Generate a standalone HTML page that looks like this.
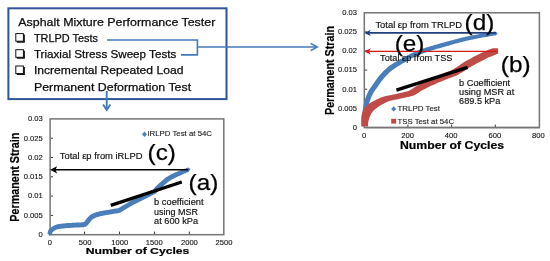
<!DOCTYPE html>
<html><head><meta charset="utf-8">
<style>
html,body{margin:0;padding:0;background:#fff;}
body{width:550px;height:261px;overflow:hidden;}
svg{display:block;}
text{font-family:"Liberation Sans",sans-serif;fill:#111;}
.cal{font-size:11.6px;fill:#000;stroke:#000;stroke-width:0.25px;}
.tk{font-size:7.6px;fill:#1a1a1a;stroke:#1a1a1a;stroke-width:0.12px;}
.lb{font-size:8.2px;fill:#111;stroke:#111;stroke-width:0.15px;}
.ttl{font-size:11.6px;font-weight:bold;fill:#000;stroke:#000;stroke-width:0.2px;}
.big{font-size:22.6px;fill:#000;stroke:#000;stroke-width:0.25px;}
</style></head><body>
<svg width="550" height="261" viewBox="0 0 550 261">
<rect width="550" height="261" fill="#fff"/>

<!-- top-left box -->
<rect x="8.4" y="8.3" width="218.1" height="90.8" fill="#fff" stroke="#2f5597" stroke-width="2"/>
<g class="cal">
<text x="18.3" y="25.5" textLength="197" lengthAdjust="spacingAndGlyphs">Asphalt Mixture Performance Tester</text>
<text x="33.9" y="42" textLength="64" lengthAdjust="spacingAndGlyphs">TRLPD Tests</text>
<text x="33.9" y="58.1" textLength="142.4" lengthAdjust="spacingAndGlyphs">Triaxial Stress Sweep Tests</text>
<text x="33.9" y="74.4" textLength="149.5" lengthAdjust="spacingAndGlyphs">Incremental Repeated Load</text>
<text x="33.9" y="90.6" textLength="157.2" lengthAdjust="spacingAndGlyphs">Permanent Deformation Test</text>
</g>
<!-- checkboxes -->
<g fill="#fff" stroke="#111" stroke-width="1">
<rect x="15.8" y="33.6" width="7.6" height="7.6"/><path d="M24.1 34.6V41.9H16.8" fill="none" stroke-width="1.5"/>
<rect x="15.8" y="49.7" width="7.6" height="7.6"/><path d="M24.1 50.7V58H16.8" fill="none" stroke-width="1.6"/>
<rect x="15.8" y="66" width="7.6" height="7.6"/><path d="M24.1 67V74.3H16.8" fill="none" stroke-width="1.6"/>
</g>
<!-- connectors -->
<g fill="none" stroke="#4379bd" stroke-width="1.6">
<path d="M107 40H197.4V54.9H181"/>
<path d="M197.4 47H316.6"/>
<path d="M310.6 43.4L317.2 47L310.6 50.6"/>
<path d="M106.7 91V109.6" stroke-width="1.9"/>
<path d="M103.1 104.4L106.7 110L110.3 104.4" stroke-width="1.9"/>
</g>

<!-- RIGHT CHART -->
<g id="rc">
<rect x="364.3" y="12.8" width="175.1" height="114.8" fill="#fff" stroke="#757575" stroke-width="1.5"/>
<g stroke="#3a3a3a" stroke-width="1">
<path d="M365 31.9h2.2M365 51h2.2M365 70.1h2.2M365 89.2h2.2M365 108.3h2.2"/>
<path d="M407.9 127v-2.4M451.6 127v-2.4M495.3 127v-2.4"/>
</g>
<g class="tk" text-anchor="end">
<text x="357" y="14.9">0.03</text><text x="357" y="34.1">0.025</text><text x="357" y="53.2">0.02</text>
<text x="357" y="72.4">0.015</text><text x="357" y="91.6">0.01</text><text x="357" y="110.7">0.005</text><text x="357" y="129.9">0</text>
</g>
<g class="tk" text-anchor="middle">
<text x="364.2" y="138.1">0</text><text x="407.6" y="138.1">200</text><text x="451.2" y="138.1">400</text><text x="494.8" y="138.1">600</text><text x="538.4" y="138.1">800</text>
</g>
<text class="ttl" text-anchor="middle" x="452" y="148.8" textLength="104" lengthAdjust="spacingAndGlyphs" style="font-size:10.2px">Number of Cycles</text>
<text class="ttl" text-anchor="middle" transform="translate(333.9 70.5) rotate(-90)" textLength="89.1" lengthAdjust="spacingAndGlyphs" style="font-size:12.7px">Permanent Strain</text>

<!-- TRLPD curve -->
<path d="M361.9 123.9L361.9 123.5L361.9 122.9L362.0 122.2L362.0 121.4L362.0 120.6L362.1 119.7L362.1 118.8L362.2 117.8L362.2 116.9L362.3 115.8L362.4 114.7L362.5 113.5L362.6 112.4L362.7 111.3L362.8 110.2L362.9 109.2L363.0 108.3L363.2 107.4L363.3 106.6L363.5 105.8L363.6 105.1L363.8 104.3L363.9 103.6L364.1 102.9L364.3 102.2L364.4 101.5L364.6 100.8L364.8 100.0L365.0 99.3L365.2 98.6L365.5 97.8L365.8 97.1L366.1 96.3L366.4 95.4L366.8 94.6L367.2 93.7L367.6 92.8L368.0 91.9L368.5 91.1L368.9 90.2L369.5 89.3L370.0 88.5L370.6 87.7L371.1 86.9L371.7 86.2L372.2 85.4L372.7 84.7L373.3 84.0L373.8 83.3L374.3 82.5L374.8 81.8L375.3 81.0L375.8 80.2L376.4 79.4L376.9 78.7L377.5 77.9L378.1 77.1L378.7 76.4L379.3 75.6L379.9 74.9L380.6 74.2L381.2 73.4L381.9 72.7L382.6 72.0L383.3 71.2L384.0 70.5L384.8 69.8L385.6 69.1L386.4 68.4L387.2 67.6L388.0 66.9L388.9 66.3L389.8 65.6L390.8 64.9L391.7 64.3L392.7 63.7L393.7 63.1L394.6 62.6L395.5 62.0L396.4 61.5L397.2 61.0L398.1 60.5L398.9 60.0L399.7 59.6L400.4 59.1L401.3 58.7L402.1 58.2L403.0 57.7L404.0 57.2L404.9 56.7L406.0 56.1L407.0 55.5L408.1 55.0L409.2 54.4L410.3 53.8L411.5 53.3L412.7 52.8L414.0 52.2L415.2 51.7L416.5 51.1L417.9 50.6L419.2 50.1L420.5 49.6L421.8 49.1L423.1 48.6L424.4 48.2L425.7 47.8L427.0 47.3L428.3 46.9L429.6 46.5L431.0 46.1L432.4 45.7L433.8 45.3L435.3 44.8L436.9 44.4L438.4 44.0L440.0 43.5L441.5 43.1L443.0 42.7L444.4 42.3L445.8 42.0L447.0 41.6L448.3 41.2L449.5 40.9L450.7 40.6L451.9 40.2L453.2 39.9L454.5 39.6L455.8 39.2L457.1 38.9L458.4 38.5L459.7 38.2L461.1 37.8L462.5 37.5L464.0 37.1L465.5 36.8L467.2 36.4L468.8 36.1L470.6 35.7L472.3 35.4L474.1 35.0L476.0 34.7L477.8 34.4L479.6 34.0L481.6 33.7L483.8 33.4L486.0 33.0L488.3 32.7L490.4 32.3L492.3 32.0L493.9 31.8L495.1 31.6L495.7 35.4L494.5 35.6L492.9 35.8L491.0 36.1L488.9 36.5L486.7 36.9L484.4 37.2L482.3 37.6L480.4 38.0L478.5 38.3L476.7 38.7L474.9 39.0L473.1 39.4L471.4 39.7L469.7 40.1L468.0 40.5L466.5 40.8L464.9 41.2L463.5 41.5L462.1 41.9L460.8 42.2L459.5 42.6L458.2 42.9L456.9 43.3L455.5 43.6L454.3 44.0L453.0 44.3L451.8 44.7L450.6 45.0L449.4 45.4L448.2 45.7L446.9 46.1L445.6 46.5L444.2 46.9L442.7 47.3L441.2 47.7L439.6 48.2L438.1 48.6L436.5 49.0L435.1 49.5L433.6 49.9L432.3 50.3L430.9 50.7L429.6 51.2L428.4 51.6L427.1 52.0L425.9 52.4L424.6 52.8L423.4 53.3L422.1 53.8L420.8 54.3L419.6 54.8L418.3 55.3L417.0 55.9L415.8 56.4L414.6 57.0L413.5 57.5L412.4 58.0L411.3 58.6L410.3 59.1L409.3 59.7L408.2 60.3L407.3 60.8L406.3 61.4L405.4 61.9L404.5 62.4L403.7 62.9L402.9 63.3L402.1 63.8L401.4 64.2L400.6 64.7L399.8 65.2L399.0 65.7L398.1 66.3L397.2 66.8L396.3 67.4L395.4 68.0L394.5 68.6L393.7 69.2L392.9 69.7L392.1 70.3L391.3 71.0L390.6 71.6L389.9 72.2L389.1 72.9L388.4 73.6L387.7 74.3L387.1 75.0L386.4 75.6L385.8 76.3L385.1 77.0L384.5 77.7L383.9 78.3L383.4 79.0L382.8 79.7L382.2 80.4L381.7 81.1L381.2 81.8L380.6 82.5L380.1 83.2L379.6 84.0L379.1 84.7L378.6 85.5L378.1 86.2L377.5 87.0L377.0 87.8L376.4 88.5L375.9 89.3L375.3 90.0L374.8 90.7L374.3 91.4L373.9 92.1L373.5 92.8L373.1 93.5L372.7 94.3L372.3 95.1L371.9 95.9L371.6 96.6L371.2 97.4L370.9 98.2L370.6 98.9L370.4 99.6L370.1 100.3L369.9 100.9L369.7 101.5L369.5 102.1L369.3 102.8L369.1 103.4L368.9 104.1L368.7 104.8L368.6 105.5L368.4 106.1L368.2 106.8L368.1 107.5L367.9 108.2L367.8 109.0L367.7 109.8L367.5 110.7L367.4 111.8L367.3 112.8L367.2 114.0L367.1 115.1L367.0 116.2L366.9 117.2L366.8 118.2L366.8 119.1L366.7 119.9L366.7 120.8L366.6 121.6L366.6 122.4L366.6 123.1L366.5 123.6L366.5 124.1ZM495.8 31.6L497.7 33.5L495.8 35.4L493.9 33.5Z" fill="#4a7ebb"/>
<!-- TSS curve -->
<path d="M361.2 119.6L361.2 119.4L361.2 119.1L361.2 118.8L361.2 118.4L361.2 118.0L361.3 117.5L361.3 117.1L361.3 116.6L361.4 116.2L361.5 115.7L361.6 115.2L361.7 114.7L361.8 114.2L362.0 113.7L362.1 113.2L362.3 112.7L362.5 112.1L362.6 111.6L362.8 111.0L363.1 110.5L363.3 109.9L363.6 109.3L363.8 108.8L364.1 108.3L364.5 107.9L364.8 107.4L365.2 107.0L365.6 106.6L365.9 106.2L366.4 105.8L366.8 105.4L367.2 105.0L367.6 104.6L368.1 104.3L368.5 104.0L369.0 103.7L369.5 103.4L370.0 103.1L370.5 102.7L371.1 102.4L371.7 102.1L372.3 101.7L372.9 101.4L373.5 101.1L374.2 100.7L374.9 100.4L375.6 100.0L376.4 99.6L377.3 99.2L378.1 98.8L379.0 98.4L379.9 98.0L380.9 97.6L382.0 97.2L383.1 96.8L384.3 96.4L385.7 96.1L387.1 95.8L388.6 95.5L390.1 95.2L391.7 94.9L393.3 94.6L394.9 94.2L396.5 93.9L398.1 93.5L399.9 93.1L401.8 92.7L403.6 92.2L405.3 91.8L406.9 91.4L408.2 91.1L409.1 90.8L410.4 90.0L411.6 89.2L412.9 88.4L414.1 87.6L415.4 86.8L416.6 86.0L418.0 85.2L419.5 84.5L420.9 83.7L422.3 82.9L423.7 82.1L425.2 81.4L426.7 80.7L428.3 79.9L429.8 79.2L431.4 78.5L433.0 77.8L434.5 77.1L436.3 76.4L438.0 75.7L439.8 74.9L441.5 74.2L443.3 73.5L445.0 72.7L446.0 72.4L447.0 72.0L448.0 71.7L449.0 71.3L449.9 71.0L450.9 70.6L451.8 70.1L452.8 69.5L453.7 68.9L454.6 68.4L455.5 67.8L456.5 67.3L457.8 66.4L459.1 65.5L460.4 64.6L461.7 63.7L463.0 62.8L464.3 61.9L465.8 61.1L467.3 60.3L468.8 59.5L470.2 58.7L471.7 57.9L473.2 57.1L474.7 56.3L476.2 55.5L477.8 54.8L479.3 54.0L480.8 53.2L482.3 52.4L484.0 51.7L485.8 51.0L487.5 50.3L489.2 49.6L491.0 48.9L492.7 48.2L498.1 48.2L498.1 53.6L498.1 53.6L496.4 54.3L494.6 55.0L492.9 55.7L491.2 56.4L489.4 57.1L487.7 57.8L486.2 58.6L484.7 59.4L483.1 60.2L481.6 60.9L480.1 61.7L478.6 62.5L477.1 63.3L475.6 64.1L474.1 64.9L472.7 65.7L471.2 66.5L469.7 67.3L468.4 68.2L467.0 69.0L465.7 69.9L464.4 70.8L463.1 71.7L461.7 72.5L460.8 73.1L459.8 73.6L458.9 74.2L458.0 74.7L457.0 75.2L456.1 75.8L455.1 76.1L454.1 76.5L453.1 76.8L452.1 77.2L451.1 77.5L450.2 77.9L448.4 78.6L446.6 79.3L444.8 80.0L443.0 80.7L441.3 81.4L439.5 82.1L437.9 82.8L436.3 83.5L434.8 84.2L433.2 84.9L431.6 85.5L430.0 86.2L428.6 87.0L427.2 87.8L425.7 88.5L424.3 89.3L422.8 90.0L421.4 90.8L420.1 91.6L418.9 92.4L417.6 93.2L416.4 94.0L415.1 94.8L413.9 95.6L412.9 95.8L411.5 96.1L410.0 96.5L408.2 96.9L406.4 97.3L404.5 97.7L402.7 98.1L401.1 98.5L399.5 98.8L397.9 99.2L396.3 99.5L394.7 99.8L393.2 100.1L391.7 100.4L390.3 100.8L389.1 101.2L387.9 101.6L386.8 102.0L385.8 102.5L384.9 102.9L384.0 103.4L383.2 103.9L382.4 104.3L381.6 104.8L380.8 105.2L380.1 105.6L379.5 106.0L378.9 106.4L378.3 106.8L377.8 107.2L377.2 107.6L376.7 108.0L376.2 108.4L375.7 108.7L375.2 109.1L374.8 109.5L374.4 109.8L374.0 110.2L373.6 110.6L373.2 111.0L372.8 111.4L372.5 111.9L372.1 112.4L371.8 112.8L371.5 113.3L371.2 113.8L370.9 114.3L370.7 114.9L370.4 115.4L370.2 116.0L369.9 116.5L369.7 117.1L369.5 117.7L369.3 118.2L369.1 118.8L368.9 119.3L368.8 119.9L368.6 120.4L368.5 120.9L368.4 121.4L368.3 121.9L368.2 122.4L368.1 122.9L368.1 123.4L368.0 123.8L368.0 124.2L368.0 124.7L368.0 125.1L368.0 125.5L368.0 125.9L368.0 126.1L368.0 126.4L361.2 126.4Z" fill="#be4b48"/>
<path d="M366 127.6H539.4" stroke="#757575" stroke-width="1.5" fill="none"/>
<!-- trend line -->
<path d="M396.4 90.1L467.6 67.3" stroke="#000" stroke-width="3.4" fill="none"/>
<!-- arrows -->
<path d="M496 32.9H367" stroke="#1f3f7d" stroke-width="1.7" fill="none"/>
<path d="M364.2 32.9L370.8 29.8L369 32.9L370.8 36Z" fill="#1f3f7d"/>
<path d="M497 51.4H367" stroke="#d61a1a" stroke-width="1.4" fill="none"/>
<path d="M364.2 51.4L370.8 48.3L369 51.4L370.8 54.5Z" fill="#d61a1a"/>
<!-- labels -->
<text class="lb" x="375.4" y="28.1" textLength="86.6" lengthAdjust="spacingAndGlyphs">Total εp from TRLPD</text>
<text class="lb" x="380.1" y="60.5" textLength="72.4" lengthAdjust="spacingAndGlyphs">Total εp from TSS</text>
<text class="big" x="394.7" y="50.7" textLength="29.7" lengthAdjust="spacingAndGlyphs">(e)</text>
<text class="big" x="464.6" y="29.6" textLength="29.7" lengthAdjust="spacingAndGlyphs">(d)</text>
<text class="big" x="500.8" y="72.4" textLength="29.7" lengthAdjust="spacingAndGlyphs">(b)</text>
<text class="lb" x="459.1" y="85.5" textLength="51" lengthAdjust="spacingAndGlyphs">b Coefficient</text>
<text class="lb" x="459.1" y="94.9" textLength="55.2" lengthAdjust="spacingAndGlyphs">using MSR at</text>
<text class="lb" x="459.1" y="104" textLength="41.2" lengthAdjust="spacingAndGlyphs">689.5 kPa</text>
<!-- legend -->
<path d="M393.7 106.2L396.2 108.9L393.7 111.6L391.2 108.9Z" fill="#4a7ebb"/>
<text class="tk" x="397.5" y="111.4" textLength="42.5" lengthAdjust="spacingAndGlyphs">TRLPD Test</text>
<rect x="391.2" y="118.8" width="5" height="4.8" fill="#be4b48"/>
<text class="tk" x="397.5" y="123.6" textLength="56.5" lengthAdjust="spacingAndGlyphs">TSS Test at 54C</text>
</g>

<!-- LEFT CHART -->
<g id="lc">
<rect x="50.1" y="118.9" width="173.7" height="115.8" fill="#fff" stroke="#757575" stroke-width="1.5"/>
<g stroke="#3a3a3a" stroke-width="1">
<path d="M50.8 138.2h2.2M50.8 157.5h2.2M50.8 176.8h2.2M50.8 196.1h2.2M50.8 215.4h2.2"/>
<path d="M84.6 234v-2.4M119.5 234v-2.4M154.4 234v-2.4M189.3 234v-2.4"/>
</g>
<g class="tk" text-anchor="end">
<text x="42.8" y="121.1">0.03</text><text x="42.8" y="140.5">0.025</text><text x="42.8" y="159.8">0.02</text>
<text x="42.7" y="179.1">0.015</text><text x="42.7" y="198.4">0.01</text><text x="42.7" y="217.7">0.005</text><text x="42.7" y="237">0</text>
</g>
<g class="tk" text-anchor="middle">
<text x="49.9" y="244.9">0</text><text x="85.2" y="244.9">500</text><text x="119.7" y="244.9">1000</text><text x="154.3" y="244.9">1500</text><text x="189.4" y="244.9">2000</text><text x="224" y="244.9">2500</text>
</g>
<text class="ttl" text-anchor="middle" x="137.6" y="253.9" textLength="103.6" lengthAdjust="spacingAndGlyphs" style="font-size:9.6px">Number of Cycles</text>
<text class="ttl" text-anchor="middle" transform="translate(19 177.2) rotate(-90)" textLength="89" lengthAdjust="spacingAndGlyphs" style="font-size:12.6px">Permanent Strain</text>
<!-- curve -->
<path d="M47.6 233.0L47.6 232.9L47.7 232.6L47.7 232.3L47.8 231.9L47.9 231.4L48.1 230.9L48.3 230.3L48.6 229.8L49.0 229.3L49.3 228.9L49.7 228.5L50.0 228.2L50.4 227.9L50.7 227.7L51.0 227.4L51.3 227.2L51.7 226.9L52.0 226.7L52.4 226.4L52.8 226.2L53.2 226.0L53.7 225.7L54.1 225.5L54.6 225.3L55.0 225.1L55.5 224.9L56.0 224.8L56.5 224.6L57.0 224.5L57.5 224.3L58.1 224.2L58.7 224.1L59.3 224.0L60.1 223.9L60.8 223.8L61.6 223.7L62.4 223.6L63.2 223.5L64.0 223.4L64.8 223.4L65.6 223.3L66.5 223.2L67.3 223.1L68.2 223.1L69.1 223.0L70.0 223.0L70.8 222.9L71.7 222.9L72.5 222.8L73.3 222.8L74.1 222.7L74.8 222.7L75.6 222.7L76.4 222.6L77.1 222.6L77.9 222.6L78.7 222.5L79.5 222.5L80.4 222.4L81.3 222.4L82.1 222.3L82.8 222.3L83.4 222.3L83.6 222.3L82.9 222.5L83.2 222.4L83.4 222.2L83.6 222.1L83.8 222.0L84.0 221.9L84.2 221.8L84.2 221.7L84.3 221.7L84.4 221.6L84.5 221.5L84.5 221.4L84.7 221.2L84.8 221.0L85.0 220.8L85.2 220.6L85.4 220.3L85.6 220.1L85.8 219.8L86.0 219.5L86.2 219.2L86.5 218.9L86.8 218.5L87.0 218.2L87.2 218.0L87.5 217.7L87.7 217.4L88.0 217.1L88.3 216.7L88.6 216.4L89.0 216.0L89.3 215.7L89.7 215.4L90.1 215.1L90.5 214.8L91.0 214.6L91.4 214.3L91.8 214.1L92.3 213.8L92.7 213.6L93.1 213.4L93.6 213.2L94.0 213.0L94.4 212.8L94.9 212.7L95.4 212.5L96.0 212.3L96.7 212.1L97.4 211.9L98.2 211.7L99.1 211.5L100.0 211.3L100.9 211.1L101.8 210.9L102.7 210.8L103.5 210.6L104.3 210.4L105.1 210.3L105.8 210.2L106.5 210.1L107.2 210.0L107.9 209.9L108.7 209.7L109.6 209.6L110.7 209.4L111.9 209.2L113.2 209.0L114.5 208.8L115.8 208.6L117.0 208.4L118.0 208.2L118.3 208.2L118.3 208.1L118.9 207.8L119.6 207.4L120.4 206.9L121.2 206.4L122.1 205.9L122.9 205.4L123.8 204.9L124.6 204.4L125.4 203.9L126.3 203.4L127.1 202.9L128.0 202.4L128.9 201.8L129.8 201.3L130.6 200.9L131.4 200.4L132.2 200.0L133.0 199.6L133.8 199.2L134.6 198.8L135.3 198.4L136.1 198.0L136.9 197.6L137.7 197.2L138.4 196.8L139.2 196.5L139.9 196.1L140.7 195.7L141.5 195.3L142.4 194.9L143.4 194.4L144.5 193.8L145.9 193.2L147.3 192.4L148.8 191.7L150.2 190.9L151.5 190.3L152.6 189.7L153.2 189.4L152.8 189.7L153.1 189.4L153.4 189.1L153.7 188.7L154.1 188.3L154.5 187.8L154.9 187.4L155.2 187.0L155.6 186.6L155.9 186.3L156.3 185.9L156.7 185.6L157.1 185.2L157.5 184.8L157.9 184.4L158.3 184.0L158.8 183.5L159.4 183.1L159.9 182.5L160.5 182.0L161.1 181.5L161.7 180.9L162.3 180.4L162.9 179.9L163.5 179.4L164.1 179.0L164.6 178.5L165.2 178.1L165.8 177.6L166.4 177.1L167.1 176.7L167.8 176.2L168.5 175.8L169.3 175.4L170.0 174.9L170.8 174.5L171.6 174.1L172.4 173.8L173.2 173.4L174.0 173.0L174.8 172.6L175.7 172.2L176.6 171.9L177.4 171.5L178.3 171.2L179.2 170.9L180.1 170.5L180.9 170.2L181.8 169.8L182.8 169.5L183.7 169.1L184.7 168.7L185.6 168.4L186.4 168.1L187.1 167.8L187.6 167.6L189.2 171.6L188.7 171.8L188.0 172.1L187.2 172.4L186.3 172.8L185.4 173.2L184.5 173.6L183.5 174.0L182.7 174.4L181.8 174.8L181.0 175.2L180.1 175.5L179.3 175.9L178.4 176.3L177.6 176.7L176.8 177.0L176.0 177.4L175.3 177.8L174.5 178.2L173.8 178.5L173.0 178.9L172.3 179.3L171.7 179.6L171.0 180.0L170.4 180.4L169.8 180.7L169.3 181.1L168.7 181.5L168.2 181.9L167.7 182.3L167.2 182.8L166.6 183.2L166.1 183.7L165.5 184.2L164.9 184.6L164.4 185.1L163.8 185.7L163.2 186.2L162.7 186.7L162.1 187.2L161.7 187.6L161.2 188.0L160.8 188.4L160.4 188.7L160.1 189.1L159.7 189.4L159.4 189.7L159.1 190.1L158.8 190.4L158.4 190.7L158.1 191.1L157.7 191.5L157.4 191.9L157.1 192.3L156.8 192.6L156.5 192.9L155.8 193.6L154.8 194.1L153.7 194.6L152.4 195.3L151.0 196.0L149.5 196.8L148.1 197.5L146.8 198.2L145.6 198.8L144.6 199.3L143.7 199.7L142.9 200.1L142.1 200.5L141.3 200.9L140.6 201.2L139.9 201.6L139.1 202.0L138.3 202.4L137.5 202.8L136.8 203.2L136.0 203.5L135.3 203.9L134.5 204.3L133.8 204.7L133.0 205.1L132.2 205.6L131.4 206.1L130.5 206.6L129.6 207.1L128.8 207.6L127.9 208.1L127.1 208.6L126.2 209.1L125.4 209.6L124.6 210.1L123.7 210.6L122.9 211.1L122.1 211.6L121.4 212.0L120.8 212.3L119.9 212.8L118.8 213.0L117.8 213.2L116.6 213.4L115.3 213.6L114.0 213.8L112.7 214.0L111.5 214.2L110.4 214.4L109.5 214.6L108.7 214.7L107.9 214.8L107.2 214.9L106.6 215.0L105.9 215.1L105.2 215.3L104.5 215.4L103.7 215.6L102.8 215.7L101.9 215.9L101.0 216.1L100.2 216.3L99.3 216.5L98.6 216.7L97.9 216.9L97.4 217.0L96.9 217.2L96.5 217.3L96.2 217.4L95.9 217.5L95.6 217.7L95.2 217.8L94.9 218.0L94.5 218.2L94.2 218.4L93.9 218.5L93.5 218.7L93.2 218.9L93.0 219.1L92.7 219.3L92.5 219.5L92.3 219.7L92.1 219.8L91.9 220.0L91.7 220.3L91.5 220.5L91.3 220.8L91.0 221.1L90.8 221.4L90.6 221.6L90.3 221.9L90.1 222.2L89.9 222.5L89.7 222.8L89.5 223.1L89.2 223.4L89.0 223.6L88.8 223.8L88.7 224.0L88.5 224.3L88.4 224.5L88.2 224.7L87.9 225.0L87.7 225.2L87.4 225.5L87.0 225.8L86.7 226.0L86.3 226.2L86.0 226.4L85.8 226.5L85.5 226.7L85.3 226.8L84.4 227.1L83.7 227.2L83.0 227.2L82.3 227.2L81.5 227.3L80.7 227.3L79.8 227.4L78.9 227.4L78.1 227.4L77.4 227.5L76.6 227.5L75.8 227.6L75.1 227.6L74.3 227.6L73.5 227.7L72.7 227.7L71.9 227.7L71.1 227.8L70.3 227.9L69.4 227.9L68.6 228.0L67.7 228.0L66.8 228.1L66.0 228.2L65.2 228.2L64.4 228.3L63.7 228.4L62.9 228.5L62.1 228.6L61.4 228.6L60.7 228.7L60.1 228.8L59.5 228.9L59.0 229.0L58.5 229.1L58.1 229.2L57.8 229.3L57.4 229.4L57.1 229.5L56.7 229.6L56.4 229.7L56.1 229.8L55.8 230.0L55.5 230.1L55.2 230.3L54.9 230.5L54.6 230.6L54.3 230.8L54.1 231.0L53.8 231.2L53.5 231.4L53.3 231.6L53.0 231.8L52.9 231.9L52.7 232.0L52.6 232.2L52.6 232.2L52.5 232.3L52.5 232.4L52.4 232.7L52.3 233.0L52.2 233.3L52.2 233.6L52.1 233.9L52.0 234.2ZM49.8 231.3L52.1 233.6L49.8 235.9L47.5 233.6ZM188.6 167.6L190.6 169.6L188.6 171.6L186.6 169.6Z" fill="#4a7ebb"/>
<path d="M110.8 205.4L181.8 182" stroke="#000" stroke-width="3.4" fill="none"/>
<path d="M188.2 169.8H54" stroke="#000" stroke-width="1.4" fill="none"/>
<path d="M50 169.8L57.2 166.2L55.4 169.8L57.2 173.4Z" fill="#000"/>
<text class="lb" x="59.8" y="158.9" textLength="82.8" lengthAdjust="spacingAndGlyphs">Total εp from iRLPD</text>
<text class="big" x="147.6" y="159.6" textLength="28.3" lengthAdjust="spacingAndGlyphs">(c)</text>
<text class="big" x="188.6" y="189.6" textLength="29.7" lengthAdjust="spacingAndGlyphs">(a)</text>
<text class="lb" x="154.1" y="205.1" textLength="49.5" lengthAdjust="spacingAndGlyphs">b coefficient</text>
<text class="lb" x="154.1" y="214.5" textLength="44" lengthAdjust="spacingAndGlyphs">using MSR</text>
<text class="lb" x="154.1" y="223.9" textLength="44" lengthAdjust="spacingAndGlyphs">at 600 kPa</text>
<path d="M144.5 131.6L147 134.3L144.5 137L142 134.3Z" fill="#4a7ebb"/>
<text class="tk" x="147.8" y="136.4" textLength="64.2" lengthAdjust="spacingAndGlyphs">iRLPD Test at 54C</text>
</g>
</svg>
</body></html>
